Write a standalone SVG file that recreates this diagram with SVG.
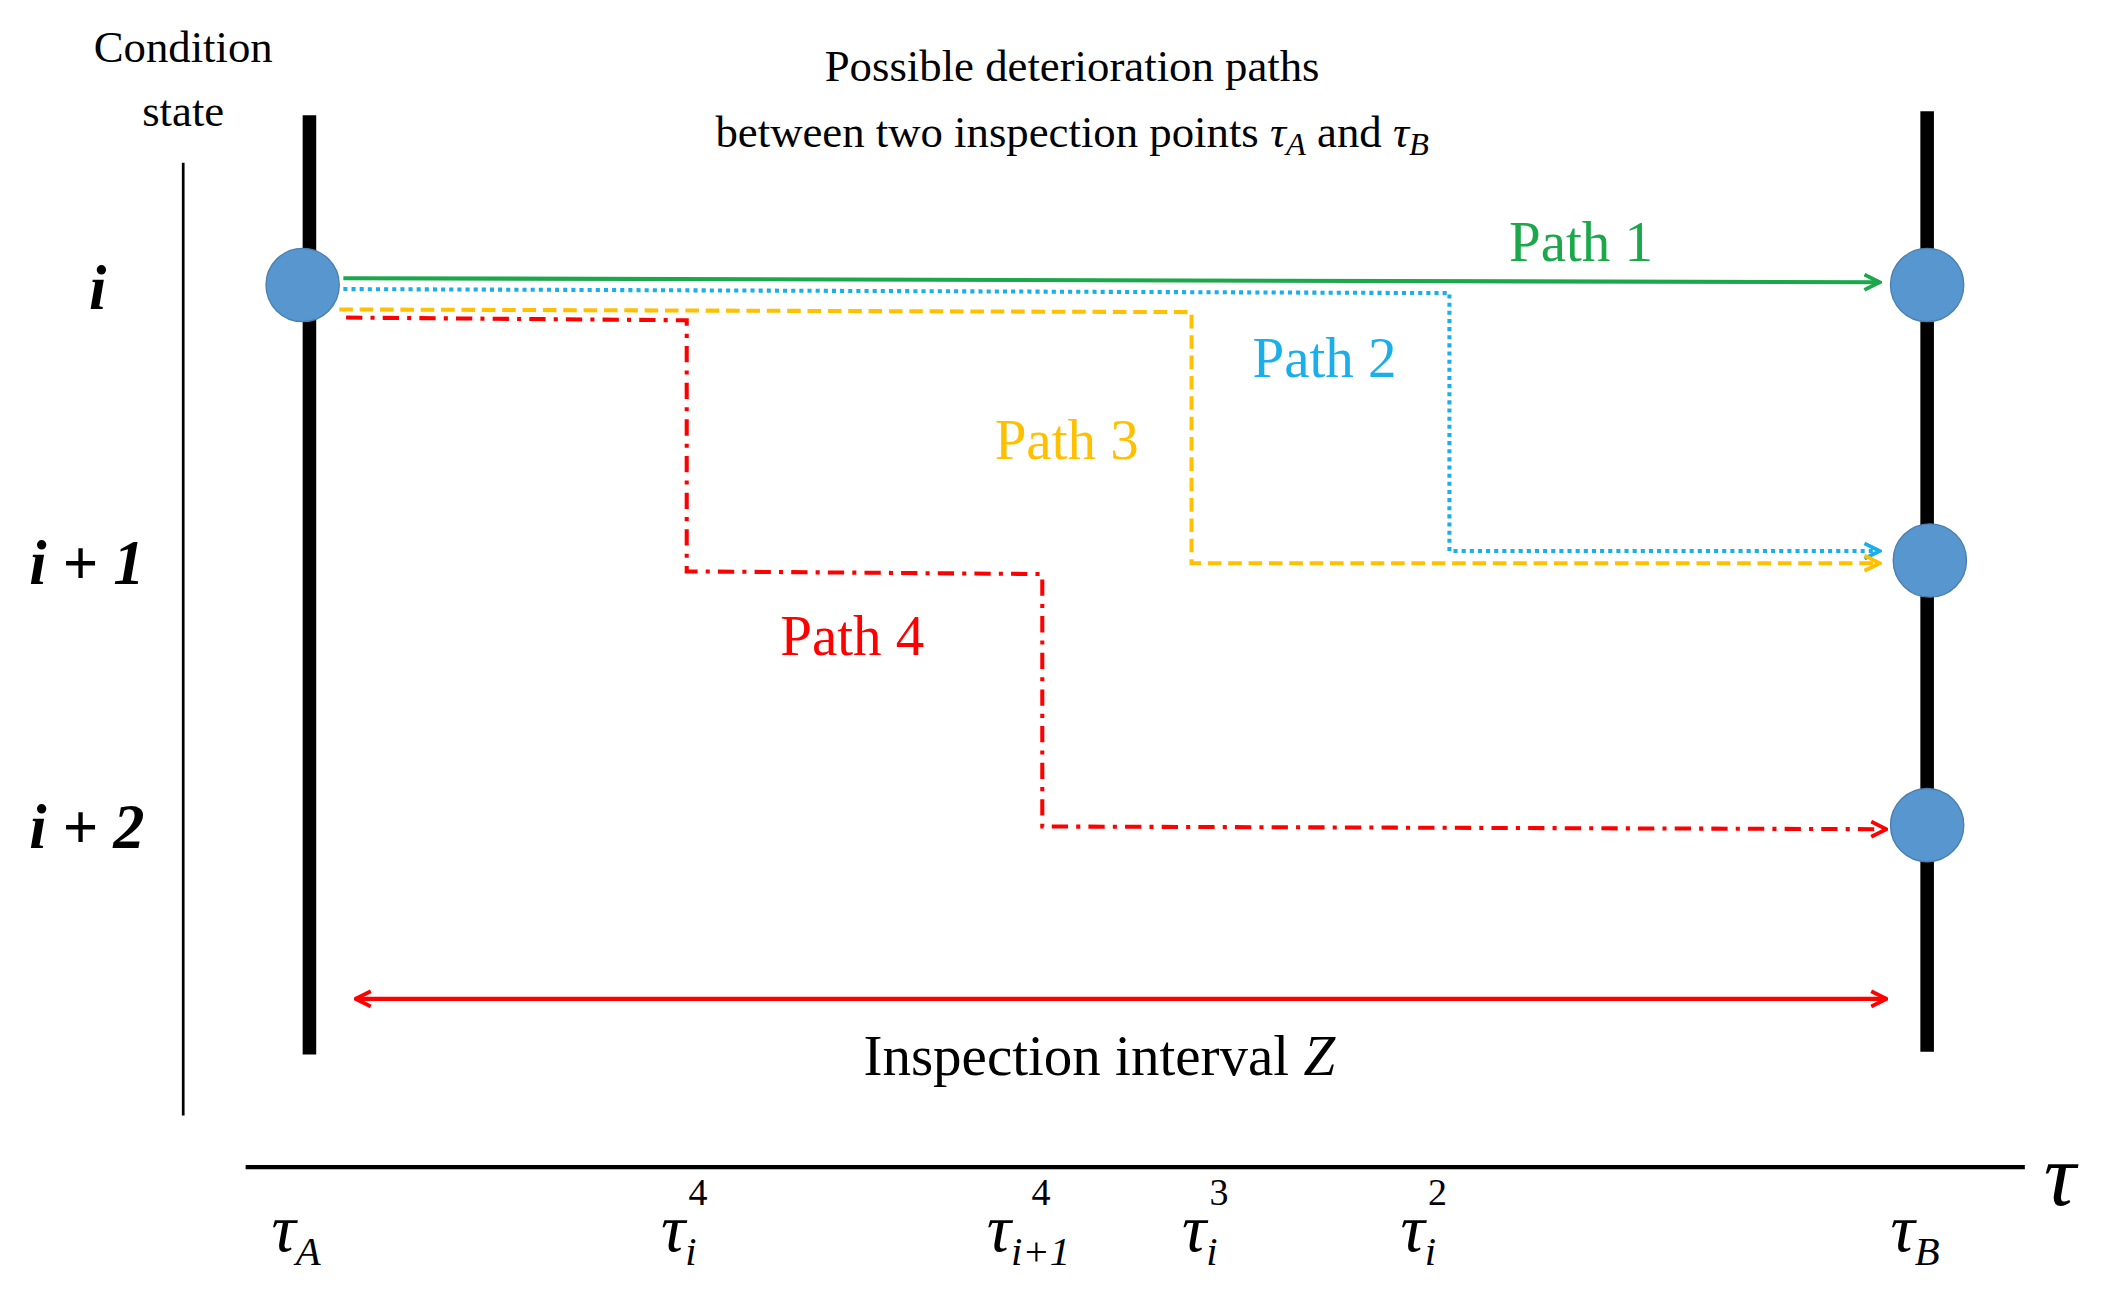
<svg xmlns="http://www.w3.org/2000/svg" width="2128" height="1304" viewBox="0 0 2128 1304" font-family="'Liberation Serif', 'DejaVu Serif', serif">
<style>
text{font-family:'Liberation Serif','DejaVu Serif',serif}
.t{font-size:33px;fill:#000;text-anchor:middle}
.st{font-size:46px;font-style:italic;font-weight:bold;text-anchor:middle}
.pl{font-size:42px;text-anchor:middle}
.tau{font-size:50px;font-style:italic}
.sub{font-size:30px;font-style:italic}
.sup{font-size:28px;font-style:normal}
.node{fill:#5796cf;stroke:#4a7fb0;stroke-width:1}
</style>
<defs>
<marker id="ag" viewBox="0 0 10 10" refX="9" refY="5" markerWidth="14" markerHeight="14" markerUnits="userSpaceOnUse" orient="auto"><path d="M1,1 L9,5 L1,9" fill="none" stroke="#1aa84b" stroke-width="2"/></marker>
<marker id="ab" viewBox="0 0 10 10" refX="9" refY="5" markerWidth="14" markerHeight="14" markerUnits="userSpaceOnUse" orient="auto"><path d="M1,1 L9,5 L1,9" fill="none" stroke="#1aaeea" stroke-width="2"/></marker>
<marker id="ao" viewBox="0 0 10 10" refX="9" refY="5" markerWidth="14" markerHeight="14" markerUnits="userSpaceOnUse" orient="auto"><path d="M1,1 L9,5 L1,9" fill="none" stroke="#ffc000" stroke-width="2"/></marker>
<marker id="ar" viewBox="0 0 10 10" refX="9" refY="5" markerWidth="14" markerHeight="14" markerUnits="userSpaceOnUse" orient="auto-start-reverse"><path d="M1,1 L9,5 L1,9" fill="none" stroke="#ff0000" stroke-width="2"/></marker>
</defs>
<rect width="2128" height="1304" fill="#fff"/>
<g transform="scale(1.35714)">
<g id="labels">
<text class="t" x="135" y="46">Condition</text>
<text class="t" x="135" y="93">state</text>
<text class="t" x="790" y="60">Possible deterioration paths</text>
<text class="t" x="790" y="108">between two inspection points <tspan font-style="italic">τ</tspan><tspan font-style="italic" font-size="24" dy="6">A</tspan><tspan dy="-6"> and </tspan><tspan font-style="italic">τ</tspan><tspan font-style="italic" font-size="24" dy="6">B</tspan></text>
<text class="st" x="72" y="228">i</text>
<text class="st" x="64" y="430">i + 1</text>
<text class="st" x="64" y="625">i + 2</text>
<text class="pl" x="1165" y="192" fill="#1aa84b">Path 1</text>
<text class="pl" x="976" y="278" fill="#1aaeea">Path 2</text>
<text class="pl" x="786" y="338" fill="#ffc000">Path 3</text>
<text class="pl" x="628" y="483" fill="#ff0000">Path 4</text>
<text class="pl" x="810" y="792">Inspection interval <tspan font-style="italic">Z</tspan></text>
<text x="1506" y="888" font-size="66" font-style="italic">τ</text>
<text class="tau" x="200" y="922">τ<tspan class="sub" dy="10">A</tspan></text>
<text class="tau" x="487" y="922">τ<tspan class="sub" dy="10">i</tspan><tspan class="sup" dx="-6" dy="-44">4</tspan></text>
<text class="tau" x="727" y="922">τ<tspan class="sub" dy="10">i+1</tspan></text>
<text class="sup" x="760" y="888">4</text>
<text class="tau" x="871" y="922">τ<tspan class="sub" dy="10">i</tspan><tspan class="sup" dx="-6" dy="-44">3</tspan></text>
<text class="tau" x="1032" y="922">τ<tspan class="sub" dy="10">i</tspan><tspan class="sup" dx="-6" dy="-44">2</tspan></text>
<text class="tau" x="1393" y="922">τ<tspan class="sub" dy="10">B</tspan></text>
</g>
<g id="axes">
<line x1="135" y1="120" x2="135" y2="822" stroke="#000" stroke-width="2"/>
<line x1="181" y1="860" x2="1492" y2="860" stroke="#000" stroke-width="3"/>
<line x1="228" y1="85" x2="228" y2="777" stroke="#000" stroke-width="10"/>
<line x1="1420" y1="82" x2="1420" y2="775" stroke="#000" stroke-width="10"/>
</g>
<g id="connectors" fill="none">
<path d="M253,205 L1385,208" stroke="#1aa84b" stroke-width="3" marker-end="url(#ag)"/>
<path d="M253,213 L1068,216 L1068,406 L1385,406" stroke="#1aaeea" stroke-width="3" stroke-dasharray="3,3" marker-end="url(#ab)"/>
<path d="M250,228 L878,230 L878,415 L1385,415" stroke="#ffc000" stroke-width="3" stroke-dasharray="10,5" marker-end="url(#ao)"/>
<path d="M255,234 L506,236 L506,421 L768,423 L768,609 L1390,611" stroke="#ff0000" stroke-width="3" stroke-dasharray="12,6,3,6" marker-end="url(#ar)"/>
<path d="M262,736 L1390,736" stroke="#ff0000" stroke-width="3" marker-start="url(#ar)" marker-end="url(#ar)"/>
</g>
<g id="n1"><circle class="node" cx="223" cy="210" r="27"/></g>
<g id="n2"><circle class="node" cx="1420" cy="210" r="27"/></g>
<g id="n3"><circle class="node" cx="1422" cy="413" r="27"/></g>
<g id="n4"><circle class="node" cx="1420" cy="608" r="27"/></g>
</g>
</svg>
